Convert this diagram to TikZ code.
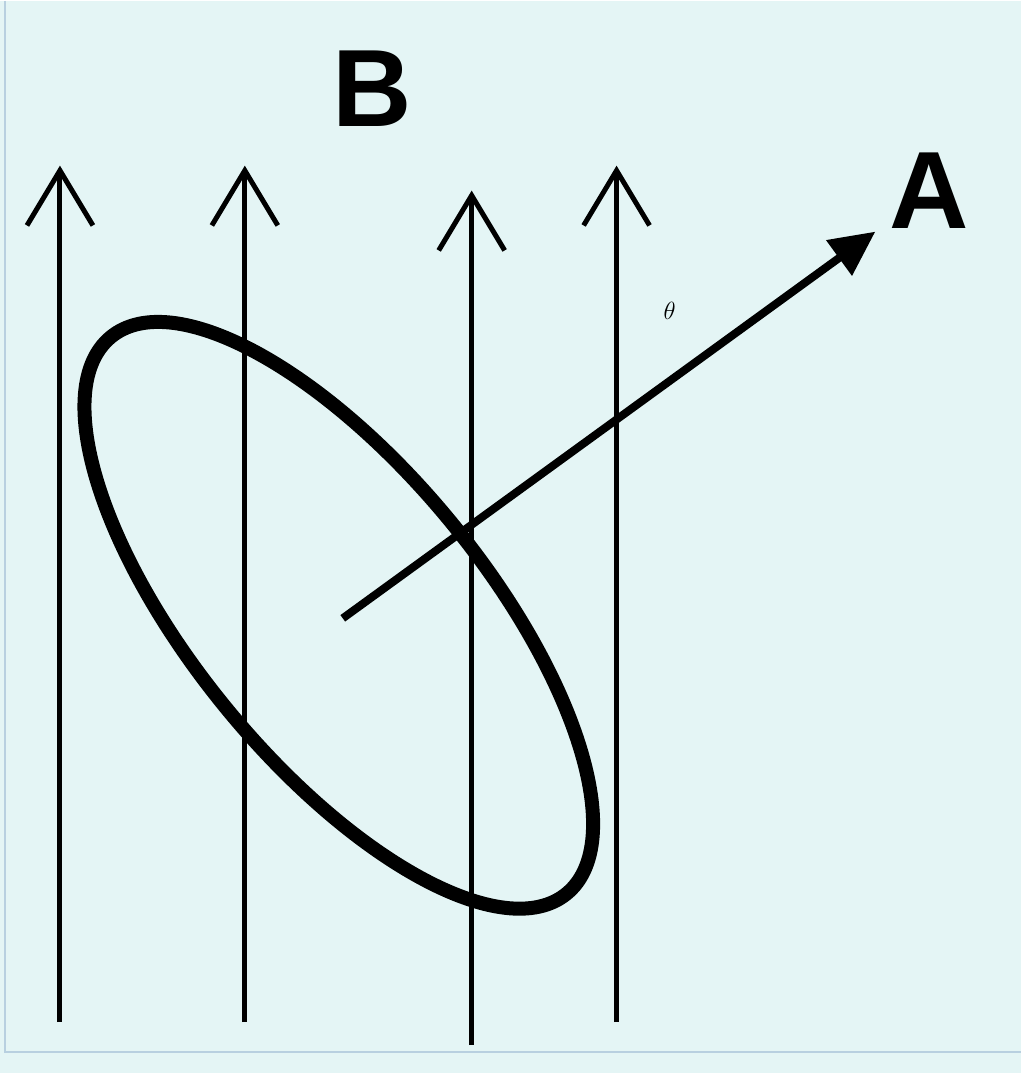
\documentclass[tikz,border=0pt]{standalone}
\usepackage{fontspec}
\setsansfont{Liberation Sans}
\usetikzlibrary{arrows.meta}
\definecolor{bg}{HTML}{E4F5F5}
\definecolor{frame}{HTML}{B8D0E0}
\begin{document}
\begin{tikzpicture}[x=1pt,y=-1pt,
  field/.style={line width=5pt,-{Straight Barb[length=55pt,width=66pt,line width=5pt]}},
  lbl/.style={font=\sffamily\bfseries\fontsize{110}{110}\selectfont,inner sep=0pt}]
\fill[bg] (0,0) rectangle (1022,1073);
\draw[frame,line width=1.5pt] (5,0) -- (5,1052) -- (1022,1052);
\useasboundingbox (0,0) rectangle (1022,1073);
\coordinate (f1s) at (60,1022); \coordinate (f1e) at (60,165);
\coordinate (f2s) at (245,1022); \coordinate (f2e) at (245,165);
\coordinate (f3s) at (472,1045); \coordinate (f3e) at (472,190);
\coordinate (f4s) at (617,1022); \coordinate (f4e) at (617,165);
\draw[field] (f1s) -- (f1e);
\draw[field] (f2s) -- (f2e);
\draw[field] (f3s) -- (f3e);
\draw[field] (f4s) -- (f4e);
\coordinate (c) at (339,615);
\draw[line width=14pt,rotate around={-50.7:(c)}] (c) ellipse [x radius=360,y radius=146];
\coordinate (ab) at (343,618); \coordinate (ae) at (876,231);
\draw[line width=8pt,-{Triangle[length=45pt,width=42pt]}] (ab) -- (ae);
\node[lbl] (B) at (372,88) {B};
\node[lbl] (A) at (930,190) {A};
\node[inner sep=0pt,font=\fontsize{95}{95}\selectfont] (th) at (670,310) {$\theta$};
\end{tikzpicture}
\end{document}
